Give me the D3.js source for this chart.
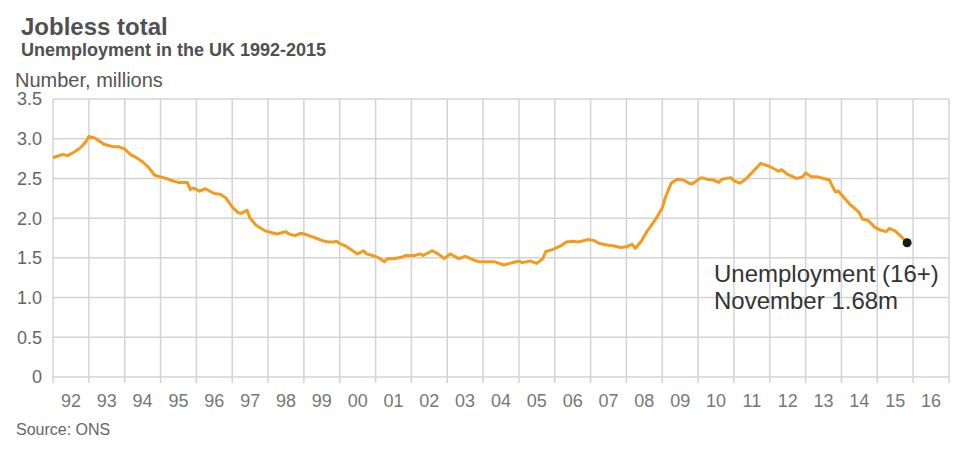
<!DOCTYPE html>
<html>
<head>
<meta charset="utf-8">
<script src="https://cdn.jsdelivr.net/npm/d3@7"></script>
<style>
  body { margin: 0; background: #fff; }
  text { font-family: "Liberation Sans", Arial, sans-serif; }
</style>
</head>
<body>
<div id="chart"></div>
<script>
// monthly readings (rolling 3 months), millions
var months = ["1992-01","1992-04","1992-06","1992-08","1992-10","1992-12",
  "1993-01","1993-03","1993-05","1993-06","1993-09","1993-11",
  "1994-01","1994-03","1994-05","1994-07","1994-09","1994-11",
  "1995-01","1995-03","1995-05","1995-07","1995-10","1995-11","1995-12",
  "1996-02","1996-04","1996-07","1996-09","1996-11",
  "1997-01","1997-03","1997-04","1997-06","1997-07","1997-09","1997-12",
  "1998-02","1998-04","1998-07","1998-08","1998-10","1998-12",
  "1999-02","1999-05","1999-07","1999-09","1999-11","1999-12",
  "2000-01","2000-03","2000-05","2000-07","2000-09","2000-10","2000-12",
  "2001-02","2001-04","2001-05","2001-07","2001-10","2001-11",
  "2002-02","2002-04","2002-05","2002-08","2002-10","2002-12",
  "2003-02","2003-03","2003-05","2003-07","2003-09","2003-10","2003-12",
  "2004-03","2004-05","2004-08","2004-10",
  "2005-01","2005-02","2005-05","2005-07","2005-09","2005-10","2005-12",
  "2006-03","2006-05","2006-07","2006-09","2006-12",
  "2007-02","2007-04","2007-07","2007-09","2007-11",
  "2008-01","2008-03","2008-04","2008-06","2008-08","2008-09","2008-11",
  "2009-01","2009-02","2009-04","2009-06","2009-08","2009-10","2009-11",
  "2010-02","2010-04","2010-06","2010-08","2010-09","2010-12",
  "2011-01","2011-03","2011-05","2011-07","2011-09","2011-10",
  "2012-01","2012-04","2012-05","2012-07","2012-10","2012-12",
  "2013-01","2013-03","2013-05","2013-07","2013-09","2013-10","2013-11","2013-12",
  "2014-02","2014-04","2014-07","2014-08","2014-10","2014-12",
  "2015-02","2015-04","2015-05","2015-07","2015-09","2015-11"];
var values = [2.76,2.80,2.79,2.83,2.88,2.96,
  3.03,3.01,2.96,2.93,2.90,2.90,
  2.87,2.80,2.76,2.71,2.64,2.54,
  2.52,2.50,2.47,2.45,2.45,2.36,2.38,
  2.34,2.37,2.31,2.30,2.25,
  2.14,2.07,2.06,2.10,2.00,1.91,1.84,
  1.82,1.80,1.83,1.80,1.78,1.81,
  1.79,1.75,1.72,1.70,1.70,1.71,
  1.68,1.65,1.60,1.55,1.59,1.55,1.53,
  1.50,1.45,1.49,1.49,1.51,1.53,
  1.53,1.55,1.53,1.59,1.55,1.49,
  1.55,1.53,1.49,1.52,1.49,1.47,1.45,
  1.45,1.45,1.41,1.43,
  1.46,1.44,1.46,1.43,1.49,1.58,1.60,
  1.65,1.70,1.71,1.70,1.73,
  1.72,1.68,1.66,1.65,1.63,
  1.64,1.67,1.62,1.71,1.84,1.89,2.00,
  2.13,2.26,2.44,2.49,2.48,2.44,2.43,
  2.51,2.49,2.48,2.45,2.49,2.51,
  2.47,2.44,2.49,2.57,2.65,2.69,
  2.65,2.59,2.61,2.55,2.50,2.52,
  2.57,2.52,2.52,2.50,2.48,2.40,2.33,2.34,
  2.25,2.17,2.07,1.99,1.97,1.89,
  1.85,1.83,1.87,1.84,1.77,1.69];
var yTicks = [0, 0.5, 1.0, 1.5, 2.0, 2.5, 3.0, 3.5];
var yearLabels = ["92","93","94","95","96","97","98","99","00","01","02","03","04",
  "05","06","07","08","09","10","11","12","13","14","15","16"];
var noteLines = ["Unemployment (16+)", "November 1.68m"];

var width = 976, height = 452;
var margin = {top: 99, right: 27, bottom: 75, left: 53};

var svg = d3.select("#chart")
  .append("svg")
    .attr("width", width)
    .attr("height", height);

var parseMonth = d3.timeParse("%Y-%m");
var data = months.map(function(m, i) { return {date: parseMonth(m), value: values[i]}; });

var x = d3.scaleTime()
  .domain([new Date(1992, 0, 1), new Date(2017, 0, 1)])
  .range([margin.left, width - margin.right]);
var y = d3.scaleLinear()
  .domain([0, 3.5])
  .range([height - margin.bottom, margin.top]);

var years = d3.range(1992, 2018).map(function(yr) { return new Date(yr, 0, 1); });

// grid lines
svg.append("g")
  .selectAll("line.h")
  .data(yTicks)
  .enter().append("line")
    .attr("x1", margin.left)
    .attr("x2", width - margin.right)
    .attr("y1", function(d) { return y(d); })
    .attr("y2", function(d) { return y(d); })
    .attr("stroke", "#d3d3d3")
    .attr("stroke-width", 1.5);
svg.append("g")
  .selectAll("line.v")
  .data(years)
  .enter().append("line")
    .attr("x1", function(d) { return x(d); })
    .attr("x2", function(d) { return x(d); })
    .attr("y1", y(3.5))
    .attr("y2", y(0) + 6)
    .attr("stroke", "#d3d3d3")
    .attr("stroke-width", 1.5);

// y labels
svg.append("g")
  .selectAll("text")
  .data(yTicks)
  .enter().append("text")
    .attr("x", 42)
    .attr("y", function(d) { return y(d); })
    .attr("dy", "0.36em")
    .attr("text-anchor", "end")
    .attr("font-size", 18)
    .attr("fill", "#666")
    .text(function(d) { return d === 0 ? "0" : d.toFixed(1); });

// x labels, centred in each year
svg.append("g")
  .selectAll("text")
  .data(yearLabels)
  .enter().append("text")
    .attr("x", function(d, i) { return (x(years[i]) + x(years[i + 1])) / 2; })
    .attr("y", 407)
    .attr("text-anchor", "middle")
    .attr("font-size", 18)
    .attr("fill", "#777")
    .text(function(d) { return d; });

// the line
var line = d3.line()
  .x(function(d) { return x(d.date); })
  .y(function(d) { return y(d.value); });
svg.append("path")
  .datum(data)
  .attr("d", line)
  .attr("fill", "none")
  .attr("stroke", "#f29b1d")
  .attr("stroke-width", 3)
  .attr("stroke-linejoin", "round");

var last = data[data.length - 1];
svg.append("circle")
  .attr("cx", x(last.date))
  .attr("cy", y(last.value))
  .attr("r", 4.5)
  .attr("fill", "#1a1a1a");

// annotation
svg.append("g")
  .selectAll("text")
  .data(noteLines)
  .enter().append("text")
    .attr("x", 714)
    .attr("y", function(d, i) { return 282 + i * 26.5; })
    .attr("font-size", 24)
    .attr("fill", "#333")
    .text(function(d) { return d; });

// titles
svg.append("text")
  .attr("x", 21)
  .attr("y", 35)
  .attr("font-size", 24)
  .attr("font-weight", "bold")
  .attr("fill", "#505050")
  .text("Jobless total");
svg.append("text")
  .attr("x", 21)
  .attr("y", 56)
  .attr("font-size", 18)
  .attr("font-weight", "bold")
  .attr("fill", "#505050")
  .text("Unemployment in the UK 1992-2015");
svg.append("text")
  .attr("x", 15)
  .attr("y", 87)
  .attr("font-size", 20)
  .attr("fill", "#555")
  .text("Number, millions");
svg.append("text")
  .attr("x", 16)
  .attr("y", 435)
  .attr("font-size", 16)
  .attr("fill", "#666")
  .text("Source: ONS");
</script>
</body>
</html>
